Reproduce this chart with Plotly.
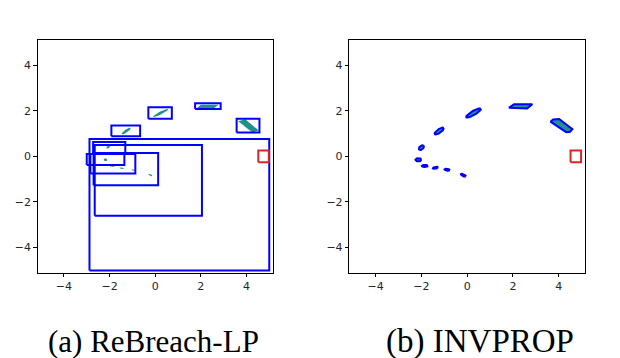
import numpy as np
import plotly.graph_objects as go

# ---------------- data ----------------
tick_vals = [-4, -2, 0, 2, 4]
tick_text = ["\u22124", "\u22122", "0", "2", "4"]

# ReBreach-LP boxes: [x0, x1, y0, y1]
box_x0 = [-2.88, -2.65, -2.70, -2.84, -3.00, -2.72, -1.92, -0.30, 1.75, 3.57]
box_x1 = [5.00, 2.05, 0.13, -0.87, -1.35, -1.31, -0.66, 0.73, 2.87, 4.57]
box_y0 = [-5.00, -2.60, -1.27, -0.75, -0.38, 0.14, 0.88, 1.65, 2.08, 1.04]
box_y1 = [0.76, 0.50, 0.15, 0.10, 0.10, 0.63, 1.35, 2.15, 2.33, 1.65]

# target set (red square)
target_x = [4.52, 4.98]
target_y = [-0.26, 0.26]

# true reachable sets (small ellipses): center, half-length, half-width, angle
true_cx = [-0.21, -0.97, -1.47, -1.89, -2.18, -2.05, -1.27, 0.24]
true_cy = [-0.82, -0.60, -0.52, -0.43, -0.15, 0.42, 1.11, 1.90]
true_a = [0.10, 0.07, 0.10, 0.11, 0.08, 0.12, 0.24, 0.37]
true_b = [0.035, 0.03, 0.03, 0.03, 0.06, 0.05, 0.065, 0.065]
true_ang = [-25, -15, -10, -5, -20, 45, 35, 27]
# true reachable sets (polygons)
true_poly_x = [[1.83, 2.00, 2.77, 2.60], [3.64, 3.95, 4.54, 4.26]]
true_poly_y = [[2.12, 2.26, 2.26, 2.12], [1.54, 1.63, 1.13, 1.05]]

# INVPROP sets (ellipses): center, half-length, half-width, angle
inv_cx = [-0.16, -0.87, -1.38, -1.85, -2.13, -2.00, -1.22, 0.28]
inv_cy = [-0.83, -0.59, -0.50, -0.42, -0.15, 0.38, 1.11, 1.90]
inv_a = [0.12, 0.12, 0.12, 0.13, 0.13, 0.13, 0.24, 0.37]
inv_b = [0.04, 0.04, 0.04, 0.05, 0.07, 0.08, 0.08, 0.09]
inv_ang = [-25, -10, 10, 0, 0, 40, 35, 30]
# INVPROP sets (polygons)
inv_poly_x = [[1.82, 2.05, 2.85, 2.62], [3.64, 3.76, 4.02, 4.60, 4.50, 4.33]]
inv_poly_y = [[2.13, 2.28, 2.28, 2.10], [1.52, 1.62, 1.64, 1.19, 1.08, 1.06]]

captions = ["(a) ReBreach-LP", "(b) INVPROP"]

# ---------------- styles ----------------
BLUE = "#0000ff"
TEAL = "#21918c"
RED = "#d62728"


def ellipse(cx, cy, a, b, ang, n=40):
    t = np.linspace(0, 2 * np.pi, n)
    th = np.deg2rad(ang)
    ex = a * np.cos(t)
    ey = b * np.sin(t)
    return cx + ex * np.cos(th) - ey * np.sin(th), cy + ex * np.sin(th) + ey * np.cos(th)


fig = go.Figure()

# ---- left panel ----
for i in range(len(true_cx)):
    ex, ey = ellipse(true_cx[i], true_cy[i], true_a[i], true_b[i], true_ang[i])
    fig.add_trace(go.Scatter(x=ex, y=ey, mode="lines", fill="toself", fillcolor=TEAL,
                             line=dict(width=0, color=TEAL), xaxis="x", yaxis="y",
                             hoverinfo="skip", showlegend=False))
for px, py in zip(true_poly_x, true_poly_y):
    fig.add_trace(go.Scatter(x=px + [px[0]], y=py + [py[0]], mode="lines", fill="toself",
                             fillcolor=TEAL, line=dict(width=0, color=TEAL),
                             xaxis="x", yaxis="y", hoverinfo="skip", showlegend=False))
for x0, x1, y0, y1 in zip(box_x0, box_x1, box_y0, box_y1):
    fig.add_trace(go.Scatter(x=[x0, x1, x1, x0, x0], y=[y0, y0, y1, y1, y0], mode="lines",
                             line=dict(color=BLUE, width=2), xaxis="x", yaxis="y",
                             hoverinfo="skip", showlegend=False))

# ---- right panel ----
for i in range(len(inv_cx)):
    ex, ey = ellipse(inv_cx[i], inv_cy[i], inv_a[i], inv_b[i], inv_ang[i])
    fig.add_trace(go.Scatter(x=ex, y=ey, mode="lines", fill="toself", fillcolor=TEAL,
                             line=dict(width=2, color=BLUE), xaxis="x2", yaxis="y2",
                             hoverinfo="skip", showlegend=False))
for px, py in zip(inv_poly_x, inv_poly_y):
    fig.add_trace(go.Scatter(x=px + [px[0]], y=py + [py[0]], mode="lines", fill="toself",
                             fillcolor=TEAL, line=dict(width=2, color=BLUE),
                             xaxis="x2", yaxis="y2", hoverinfo="skip", showlegend=False))

# ---- targets ----
for xa, ya in (("x", "y"), ("x2", "y2")):
    x0, x1 = target_x
    y0, y1 = target_y
    fig.add_trace(go.Scatter(x=[x0, x1, x1, x0, x0], y=[y0, y0, y1, y1, y0], mode="lines",
                             line=dict(color=RED, width=2), xaxis=xa, yaxis=ya,
                             hoverinfo="skip", showlegend=False))

axis_common = dict(range=[-5.15, 5.15], tickvals=tick_vals, ticktext=tick_text,
                   showgrid=False, zeroline=False, showline=True, mirror=True,
                   linecolor="black", linewidth=1, ticks="outside", ticklen=3.5,
                   tickwidth=1, tickcolor="black", automargin=False,
                   tickfont=dict(family="DejaVu Sans", size=11, color="#262626"))
yaxis_common = dict(axis_common, range=[-5.1, 5.1])

fig.update_layout(
    width=620, height=358,
    margin=dict(l=0, r=0, t=0, b=0, pad=0),
    paper_bgcolor="white", plot_bgcolor="white",
    xaxis=dict(axis_common, domain=[0.0608, 0.4398], anchor="y"),
    yaxis=dict(yaxis_common, domain=[0.2383, 0.8883], anchor="x"),
    xaxis2=dict(axis_common, domain=[0.5634, 0.9435], anchor="y2"),
    yaxis2=dict(yaxis_common, domain=[0.2383, 0.8883], anchor="x2"),
    annotations=[
        dict(text=captions[0], x=153 / 620, y=0.047, xref="paper", yref="paper",
             xanchor="center", yanchor="middle", showarrow=False,
             font=dict(family="Liberation Serif", size=31, color="black")),
        dict(text=captions[1], x=480 / 620, y=0.047, xref="paper", yref="paper",
             xanchor="center", yanchor="middle", showarrow=False,
             font=dict(family="Liberation Serif", size=33, color="black")),
    ],
)

fig.write_html("out.html", config={"displayModeBar": False},
               post_script="document.body.style.margin='0';")
